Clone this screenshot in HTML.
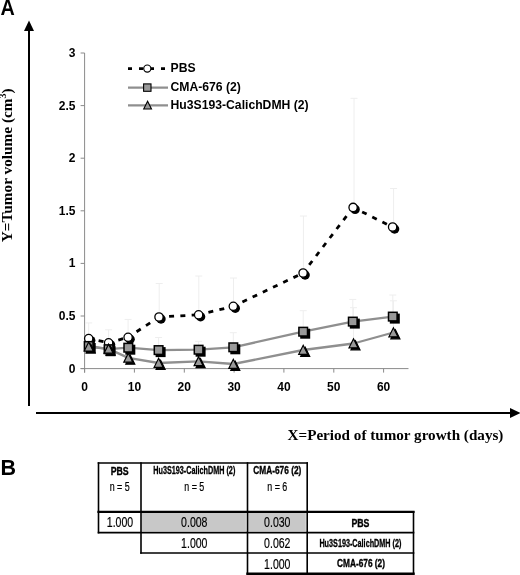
<!DOCTYPE html>
<html><head><meta charset="utf-8"><title>Figure</title><style>
html,body{margin:0;padding:0;background:#fff;}
svg{display:block;}
text{font-family:"Liberation Sans",Arial,sans-serif;fill:#000;}
.pl{font-size:21px;font-weight:bold;}
.yl{font-size:15.3px !important;}
.al{font-family:"Liberation Serif","Times New Roman",serif;font-size:15px;font-weight:bold;}
.tk{font-size:12px;font-weight:bold;}
.lg{font-size:12.2px;font-weight:bold;}
.tb{font-size:11px;font-weight:bold;stroke:#000;stroke-width:0.35px;}
.ts{font-size:10.5px;font-weight:bold;stroke:#000;stroke-width:0.3px;}
.tn{font-size:12px;stroke:#000;stroke-width:0.2px;}
.tv{font-size:14px;stroke:#000;stroke-width:0.2px;}
</style></head>
<body><svg width="520" height="575" viewBox="0 0 520 575">
<line x1="29" y1="29" x2="29" y2="406" stroke="#000" stroke-width="2"/>
<polygon points="29,20.5 24,31 34,31" fill="#000"/>
<line x1="36" y1="413" x2="511" y2="413" stroke="#000" stroke-width="2"/>
<polygon points="520.5,413 510,408 510,418" fill="#000"/>
<text transform="translate(0.4,14.6) scale(0.9,1)" class="pl" style="font-size:22px">A</text>
<text x="0.6" y="474.8" class="pl" style="font-size:21.5px">B</text>
<text x="287.6" y="440" class="al" style="font-size:15.15px">X=Period of tumor growth (days)</text>
<text transform="translate(12.2,242.3) rotate(-90)" class="al yl">Y=Tumor volume (cm<tspan font-size="10" dy="-6">3</tspan><tspan dy="6">)</tspan></text>
<line x1="84.6" y1="53" x2="84.6" y2="372.6" stroke="#8a8a8a" stroke-width="1"/>
<line x1="80.6" y1="368.6" x2="408.495" y2="368.6" stroke="#8a8a8a" stroke-width="1"/>
<line x1="80.6" y1="368.6" x2="84.6" y2="368.6" stroke="#8a8a8a" stroke-width="1"/>
<text x="75.5" y="372.5" class="tk" text-anchor="end">0</text>
<line x1="80.6" y1="316" x2="84.6" y2="316" stroke="#8a8a8a" stroke-width="1"/>
<text x="75.5" y="319.9" class="tk" text-anchor="end">0.5</text>
<line x1="80.6" y1="263.4" x2="84.6" y2="263.4" stroke="#8a8a8a" stroke-width="1"/>
<text x="75.5" y="267.3" class="tk" text-anchor="end">1</text>
<line x1="80.6" y1="210.8" x2="84.6" y2="210.8" stroke="#8a8a8a" stroke-width="1"/>
<text x="75.5" y="214.7" class="tk" text-anchor="end">1.5</text>
<line x1="80.6" y1="158.2" x2="84.6" y2="158.2" stroke="#8a8a8a" stroke-width="1"/>
<text x="75.5" y="162.1" class="tk" text-anchor="end">2</text>
<line x1="80.6" y1="105.6" x2="84.6" y2="105.6" stroke="#8a8a8a" stroke-width="1"/>
<text x="75.5" y="109.5" class="tk" text-anchor="end">2.5</text>
<line x1="80.6" y1="53" x2="84.6" y2="53" stroke="#8a8a8a" stroke-width="1"/>
<text x="75.5" y="56.9" class="tk" text-anchor="end">3</text>
<line x1="84.6" y1="368.6" x2="84.6" y2="372.6" stroke="#8a8a8a" stroke-width="1"/>
<text x="84.6" y="390.8" class="tk" text-anchor="middle">0</text>
<line x1="134.4" y1="368.6" x2="134.4" y2="372.6" stroke="#8a8a8a" stroke-width="1"/>
<text x="134.4" y="390.8" class="tk" text-anchor="middle">10</text>
<line x1="184.3" y1="368.6" x2="184.3" y2="372.6" stroke="#8a8a8a" stroke-width="1"/>
<text x="184.3" y="390.8" class="tk" text-anchor="middle">20</text>
<line x1="234.1" y1="368.6" x2="234.1" y2="372.6" stroke="#8a8a8a" stroke-width="1"/>
<text x="234.1" y="390.8" class="tk" text-anchor="middle">30</text>
<line x1="283.9" y1="368.6" x2="283.9" y2="372.6" stroke="#8a8a8a" stroke-width="1"/>
<text x="283.9" y="390.8" class="tk" text-anchor="middle">40</text>
<line x1="333.8" y1="368.6" x2="333.8" y2="372.6" stroke="#8a8a8a" stroke-width="1"/>
<text x="333.8" y="390.8" class="tk" text-anchor="middle">50</text>
<line x1="383.6" y1="368.6" x2="383.6" y2="372.6" stroke="#8a8a8a" stroke-width="1"/>
<text x="383.6" y="390.8" class="tk" text-anchor="middle">60</text>
<path d="M88.7 338.6V322.9M85.2 322.9H92.2" stroke="#eeeeee" stroke-width="1" fill="none"/>
<path d="M108.6 342.8V329.8M105.1 329.8H112.1" stroke="#eeeeee" stroke-width="1" fill="none"/>
<path d="M128.1 337.3V319.4M124.6 319.4H131.6" stroke="#eeeeee" stroke-width="1" fill="none"/>
<path d="M159.2 317V283.5M155.7 283.5H162.7" stroke="#eeeeee" stroke-width="1" fill="none"/>
<path d="M198.8 314.8V276M195.3 276H202.3" stroke="#eeeeee" stroke-width="1" fill="none"/>
<path d="M233.5 306.3V278M230 278H237" stroke="#eeeeee" stroke-width="1" fill="none"/>
<path d="M303.4 273V216M299.9 216H306.9" stroke="#eeeeee" stroke-width="1" fill="none"/>
<path d="M354 207.4V98.3M350.5 98.3H357.5" stroke="#eeeeee" stroke-width="1" fill="none"/>
<path d="M393.6 227V188.5M390.1 188.5H397.1" stroke="#eeeeee" stroke-width="1" fill="none"/>
<path d="M303.2 331.7V310.7M299.7 310.7H306.7" stroke="#eeeeee" stroke-width="1" fill="none"/>
<path d="M352.8 321.6V299.4M349.3 299.4H356.3" stroke="#eeeeee" stroke-width="1" fill="none"/>
<path d="M392.8 316.6V295M389.3 295H396.3" stroke="#eeeeee" stroke-width="1" fill="none"/>
<path d="M233.3 347.3V332.7M229.8 332.7H236.8" stroke="#eeeeee" stroke-width="1" fill="none"/>
<path d="M198.6 349.7V341.3M195.1 341.3H202.1" stroke="#eeeeee" stroke-width="1" fill="none"/>
<path d="M158.6 350.1V337.5M155.1 337.5H162.1" stroke="#eeeeee" stroke-width="1" fill="none"/>
<path d="M393.4 332.5V300.8M389.9 300.8H396.9" stroke="#eeeeee" stroke-width="1" fill="none"/>
<path d="M353.5 343.5V307.7M350 307.7H357" stroke="#eeeeee" stroke-width="1" fill="none"/>
<polyline points="88.7,346.8 108.6,348.9 128.3,357.9 158.6,363 198.6,361.4 233.3,364 303.2,350 353.5,343.5 393.4,332.5" fill="none" stroke="#8f8f8f" stroke-width="2.3" stroke-linejoin="round"/>
<polyline points="88.7,346 108.6,349.2 128.3,347.7 158.6,350.1 198.6,349.7 233.3,347.3 303.2,331.7 352.8,321.6 392.8,316.6" fill="none" stroke="#8f8f8f" stroke-width="2.3" stroke-linejoin="round"/>
<line x1="88.7" y1="338.6" x2="108.6" y2="342.8" stroke="#000" stroke-width="2.8" stroke-dasharray="5 6.3" stroke-dashoffset="1.2"/>
<line x1="108.6" y1="342.8" x2="128.1" y2="337.3" stroke="#000" stroke-width="2.8" stroke-dasharray="5 6.3" stroke-dashoffset="1.2"/>
<line x1="128.1" y1="337.3" x2="159" y2="317" stroke="#000" stroke-width="2.8" stroke-dasharray="5 6.3" stroke-dashoffset="1.2"/>
<line x1="159" y1="317" x2="198.6" y2="314.8" stroke="#000" stroke-width="2.8" stroke-dasharray="5 6.3" stroke-dashoffset="1.2"/>
<line x1="198.6" y1="314.8" x2="233.3" y2="306.3" stroke="#000" stroke-width="2.8" stroke-dasharray="5 6.3" stroke-dashoffset="1.2"/>
<line x1="233.3" y1="306.3" x2="303.1" y2="273" stroke="#000" stroke-width="2.8" stroke-dasharray="5 6.3" stroke-dashoffset="1.2"/>
<line x1="303.1" y1="273" x2="353.1" y2="207.4" stroke="#000" stroke-width="2.8" stroke-dasharray="5 6.3" stroke-dashoffset="1.2"/>
<line x1="353.1" y1="207.4" x2="392.6" y2="227" stroke="#000" stroke-width="2.8" stroke-dasharray="5 6.3" stroke-dashoffset="1.2"/>
<circle cx="90.7" cy="340.6" r="4.7" fill="#000"/>
<circle cx="88.7" cy="338.6" r="4.15" fill="#fff" stroke="#000" stroke-width="1.3"/>
<circle cx="110.6" cy="344.8" r="4.7" fill="#000"/>
<circle cx="108.6" cy="342.8" r="4.15" fill="#fff" stroke="#000" stroke-width="1.3"/>
<circle cx="130.1" cy="339.3" r="4.7" fill="#000"/>
<circle cx="128.1" cy="337.3" r="4.15" fill="#fff" stroke="#000" stroke-width="1.3"/>
<circle cx="161" cy="319" r="4.7" fill="#000"/>
<circle cx="159" cy="317" r="4.15" fill="#fff" stroke="#000" stroke-width="1.3"/>
<circle cx="200.6" cy="316.8" r="4.7" fill="#000"/>
<circle cx="198.6" cy="314.8" r="4.15" fill="#fff" stroke="#000" stroke-width="1.3"/>
<circle cx="235.3" cy="308.3" r="4.7" fill="#000"/>
<circle cx="233.3" cy="306.3" r="4.15" fill="#fff" stroke="#000" stroke-width="1.3"/>
<circle cx="305.1" cy="275" r="4.7" fill="#000"/>
<circle cx="303.1" cy="273" r="4.15" fill="#fff" stroke="#000" stroke-width="1.3"/>
<circle cx="355.1" cy="209.4" r="4.7" fill="#000"/>
<circle cx="353.1" cy="207.4" r="4.15" fill="#fff" stroke="#000" stroke-width="1.3"/>
<circle cx="394.6" cy="229" r="4.7" fill="#000"/>
<circle cx="392.6" cy="227" r="4.15" fill="#fff" stroke="#000" stroke-width="1.3"/>
<rect x="85.7" y="343" width="10" height="10" fill="#000"/>
<rect x="84.4" y="341.7" width="8.6" height="8.6" fill="#999999" stroke="#000" stroke-width="1.5"/>
<rect x="105.6" y="346.2" width="10" height="10" fill="#000"/>
<rect x="104.3" y="344.9" width="8.6" height="8.6" fill="#999999" stroke="#000" stroke-width="1.5"/>
<rect x="125.3" y="344.7" width="10" height="10" fill="#000"/>
<rect x="124" y="343.4" width="8.6" height="8.6" fill="#999999" stroke="#000" stroke-width="1.5"/>
<rect x="155.6" y="347.1" width="10" height="10" fill="#000"/>
<rect x="154.3" y="345.8" width="8.6" height="8.6" fill="#999999" stroke="#000" stroke-width="1.5"/>
<rect x="195.6" y="346.7" width="10" height="10" fill="#000"/>
<rect x="194.3" y="345.4" width="8.6" height="8.6" fill="#999999" stroke="#000" stroke-width="1.5"/>
<rect x="230.3" y="344.3" width="10" height="10" fill="#000"/>
<rect x="229" y="343" width="8.6" height="8.6" fill="#999999" stroke="#000" stroke-width="1.5"/>
<rect x="300.2" y="328.7" width="10" height="10" fill="#000"/>
<rect x="298.9" y="327.4" width="8.6" height="8.6" fill="#999999" stroke="#000" stroke-width="1.5"/>
<rect x="349.8" y="318.6" width="10" height="10" fill="#000"/>
<rect x="348.5" y="317.3" width="8.6" height="8.6" fill="#999999" stroke="#000" stroke-width="1.5"/>
<rect x="389.8" y="313.6" width="10" height="10" fill="#000"/>
<rect x="388.5" y="312.3" width="8.6" height="8.6" fill="#999999" stroke="#000" stroke-width="1.5"/>
<polygon points="90.7,344.1 95.2,353.1 86.2,353.1" fill="#000" stroke="#000" stroke-width="1.2" stroke-linejoin="miter"/>
<polygon points="88.7,342.1 93.2,351.1 84.2,351.1" fill="#999999" stroke="#000" stroke-width="1.2" stroke-linejoin="miter"/>
<polygon points="110.6,346.2 115.1,355.2 106.1,355.2" fill="#000" stroke="#000" stroke-width="1.2" stroke-linejoin="miter"/>
<polygon points="108.6,344.2 113.1,353.2 104.1,353.2" fill="#999999" stroke="#000" stroke-width="1.2" stroke-linejoin="miter"/>
<polygon points="130.3,355.2 134.8,364.2 125.8,364.2" fill="#000" stroke="#000" stroke-width="1.2" stroke-linejoin="miter"/>
<polygon points="128.3,353.2 132.8,362.2 123.8,362.2" fill="#999999" stroke="#000" stroke-width="1.2" stroke-linejoin="miter"/>
<polygon points="160.6,360.3 165.1,369.3 156.1,369.3" fill="#000" stroke="#000" stroke-width="1.2" stroke-linejoin="miter"/>
<polygon points="158.6,358.3 163.1,367.3 154.1,367.3" fill="#999999" stroke="#000" stroke-width="1.2" stroke-linejoin="miter"/>
<polygon points="200.6,358.7 205.1,367.7 196.1,367.7" fill="#000" stroke="#000" stroke-width="1.2" stroke-linejoin="miter"/>
<polygon points="198.6,356.7 203.1,365.7 194.1,365.7" fill="#999999" stroke="#000" stroke-width="1.2" stroke-linejoin="miter"/>
<polygon points="235.3,361.3 239.8,370.3 230.8,370.3" fill="#000" stroke="#000" stroke-width="1.2" stroke-linejoin="miter"/>
<polygon points="233.3,359.3 237.8,368.3 228.8,368.3" fill="#999999" stroke="#000" stroke-width="1.2" stroke-linejoin="miter"/>
<polygon points="305.2,347.3 309.7,356.3 300.7,356.3" fill="#000" stroke="#000" stroke-width="1.2" stroke-linejoin="miter"/>
<polygon points="303.2,345.3 307.7,354.3 298.7,354.3" fill="#999999" stroke="#000" stroke-width="1.2" stroke-linejoin="miter"/>
<polygon points="355.5,340.8 360,349.8 351,349.8" fill="#000" stroke="#000" stroke-width="1.2" stroke-linejoin="miter"/>
<polygon points="353.5,338.8 358,347.8 349,347.8" fill="#999999" stroke="#000" stroke-width="1.2" stroke-linejoin="miter"/>
<polygon points="395.4,329.8 399.9,338.8 390.9,338.8" fill="#000" stroke="#000" stroke-width="1.2" stroke-linejoin="miter"/>
<polygon points="393.4,327.8 397.9,336.8 388.9,336.8" fill="#999999" stroke="#000" stroke-width="1.2" stroke-linejoin="miter"/>
<line x1="128" y1="68.6" x2="166" y2="68.6" stroke="#000" stroke-width="2.6" stroke-dasharray="4 7"/>
<circle cx="147.3" cy="68.6" r="3.6" fill="#fff" stroke="#000" stroke-width="1.2"/>
<line x1="128" y1="87.6" x2="168" y2="87.6" stroke="#8f8f8f" stroke-width="2.2"/>
<rect x="143.6" y="83.9" width="7.4" height="7.4" fill="#999999" stroke="#000" stroke-width="1.1"/>
<line x1="128" y1="105.3" x2="168" y2="105.3" stroke="#8f8f8f" stroke-width="2.2"/>
<polygon points="147.6,101.3 151.5,109 143.7,109" fill="#999999" stroke="#000" stroke-width="1.1"/>
<text x="170.5" y="71.9" class="lg">PBS</text>
<text x="170.5" y="90.9" class="lg">CMA-676 (2)</text>
<text x="170.5" y="108.7" class="lg">Hu3S193-CalichDMH (2)</text>
<rect x="141.5" y="512.5" width="104.4" height="18.8" fill="#c8c8c8"/>
<rect x="248" y="512.5" width="57.8" height="18.8" fill="#c8c8c8"/>
<line x1="98.5" y1="463" x2="307.2" y2="463" stroke="#000" stroke-width="1.6" stroke-linecap="square"/>
<line x1="98.5" y1="511.8" x2="413.5" y2="511.8" stroke="#000" stroke-width="2.2" stroke-linecap="square"/>
<line x1="98.5" y1="463" x2="98.5" y2="532.6" stroke="#000" stroke-width="1.6" stroke-linecap="square"/>
<line x1="141" y1="463" x2="141" y2="553" stroke="#000" stroke-width="1.6" stroke-linecap="square"/>
<line x1="247.5" y1="463" x2="247.5" y2="573.8" stroke="#000" stroke-width="1.6" stroke-linecap="square"/>
<line x1="307.2" y1="463" x2="307.2" y2="573.8" stroke="#000" stroke-width="1.6" stroke-linecap="square"/>
<line x1="413.5" y1="511.8" x2="413.5" y2="573.8" stroke="#000" stroke-width="1.6" stroke-linecap="square"/>
<line x1="98.5" y1="532.6" x2="413.5" y2="532.6" stroke="#000" stroke-width="1.6" stroke-linecap="square"/>
<line x1="141" y1="553" x2="413.5" y2="553" stroke="#000" stroke-width="1.6" stroke-linecap="square"/>
<line x1="247.5" y1="573.8" x2="413.5" y2="573.8" stroke="#000" stroke-width="2.4" stroke-linecap="square"/>
<text x="119.7" y="475" class="tb" text-anchor="middle" textLength="18" lengthAdjust="spacingAndGlyphs">PBS</text>
<text x="119.7" y="490.5" class="tn" text-anchor="middle" textLength="20" lengthAdjust="spacingAndGlyphs">n = 5</text>
<text x="194.3" y="474" class="ts" text-anchor="middle" textLength="82" lengthAdjust="spacingAndGlyphs">Hu3S193-CalichDMH (2)</text>
<text x="194.3" y="490.5" class="tn" text-anchor="middle" textLength="20" lengthAdjust="spacingAndGlyphs">n = 5</text>
<text x="277.3" y="474" class="tb" text-anchor="middle" textLength="48" lengthAdjust="spacingAndGlyphs">CMA-676 (2)</text>
<text x="277.3" y="490.5" class="tn" text-anchor="middle" textLength="20" lengthAdjust="spacingAndGlyphs">n = 6</text>
<text x="120" y="527" class="tv" text-anchor="middle" textLength="26.4" lengthAdjust="spacingAndGlyphs">1.000</text>
<text x="194.3" y="527" class="tv" text-anchor="middle" textLength="26.4" lengthAdjust="spacingAndGlyphs">0.008</text>
<text x="277.3" y="527" class="tv" text-anchor="middle" textLength="26.4" lengthAdjust="spacingAndGlyphs">0.030</text>
<text x="194.3" y="548" class="tv" text-anchor="middle" textLength="26.4" lengthAdjust="spacingAndGlyphs">1.000</text>
<text x="277.3" y="548" class="tv" text-anchor="middle" textLength="26.4" lengthAdjust="spacingAndGlyphs">0.062</text>
<text x="277.3" y="568.5" class="tv" text-anchor="middle" textLength="26.4" lengthAdjust="spacingAndGlyphs">1.000</text>
<text x="360.4" y="527" class="tb" text-anchor="middle" textLength="18" lengthAdjust="spacingAndGlyphs">PBS</text>
<text x="360.4" y="547" class="ts" text-anchor="middle" textLength="82" lengthAdjust="spacingAndGlyphs">Hu3S193-CalichDMH (2)</text>
<text x="361" y="567" class="tb" text-anchor="middle" textLength="48" lengthAdjust="spacingAndGlyphs">CMA-676 (2)</text>
</svg></body></html>
